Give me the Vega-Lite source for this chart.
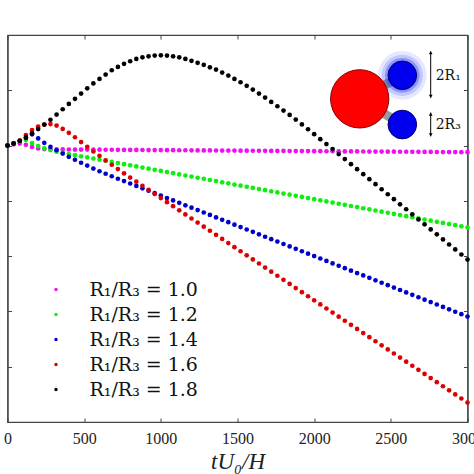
{
  "$schema": "https://vega.github.io/schema/vega-lite/v6.json",
  "width": 460,
  "height": 387,
  "autosize": "none",
  "padding": {"left": 7.5, "top": 35, "right": 6.5, "bottom": 52},
  "background": "white",
  "config": {
    "view": {"stroke": "#444444", "strokeWidth": 1.2},
    "font": "Liberation Serif",
    "axis": {
      "domainColor": "#444444",
      "domainWidth": 1.2,
      "tickColor": "#444444",
      "tickSize": -4,
      "tickWidth": 1,
      "grid": false,
      "labelFlush": false,
      "labelFont": "Liberation Serif",
      "labelFontSize": 16,
      "labelColor": "#222222",
      "titleColor": "#222222"
    }
  },
  "datasets": {
    "series": [
      {"s":"1.0","t":0,"y":0},{"s":"1.0","t":40,"y":0.022},{"s":"1.0","t":80,"y":0.036},{"s":"1.0","t":120,"y":0.013},{"s":"1.0","t":160,"y":-0.024},{"s":"1.0","t":200,"y":-0.051},{"s":"1.0","t":240,"y":-0.063},{"s":"1.0","t":280,"y":-0.069},{"s":"1.0","t":320,"y":-0.070},{"s":"1.0","t":360,"y":-0.070},{"s":"1.0","t":400,"y":-0.071},{"s":"1.0","t":440,"y":-0.072},{"s":"1.0","t":480,"y":-0.073},{"s":"1.0","t":520,"y":-0.073},{"s":"1.0","t":560,"y":-0.074},{"s":"1.0","t":600,"y":-0.075},{"s":"1.0","t":640,"y":-0.076},{"s":"1.0","t":680,"y":-0.076},{"s":"1.0","t":720,"y":-0.077},{"s":"1.0","t":760,"y":-0.078},{"s":"1.0","t":800,"y":-0.079},{"s":"1.0","t":840,"y":-0.079},{"s":"1.0","t":880,"y":-0.080},{"s":"1.0","t":920,"y":-0.081},{"s":"1.0","t":960,"y":-0.082},{"s":"1.0","t":1000,"y":-0.082},{"s":"1.0","t":1040,"y":-0.083},{"s":"1.0","t":1080,"y":-0.084},{"s":"1.0","t":1120,"y":-0.085},{"s":"1.0","t":1160,"y":-0.085},{"s":"1.0","t":1200,"y":-0.086},{"s":"1.0","t":1240,"y":-0.087},{"s":"1.0","t":1280,"y":-0.088},{"s":"1.0","t":1320,"y":-0.088},{"s":"1.0","t":1360,"y":-0.089},{"s":"1.0","t":1400,"y":-0.090},{"s":"1.0","t":1440,"y":-0.091},{"s":"1.0","t":1480,"y":-0.091},{"s":"1.0","t":1520,"y":-0.092},{"s":"1.0","t":1560,"y":-0.093},{"s":"1.0","t":1600,"y":-0.094},{"s":"1.0","t":1640,"y":-0.094},{"s":"1.0","t":1680,"y":-0.095},{"s":"1.0","t":1720,"y":-0.096},{"s":"1.0","t":1760,"y":-0.097},{"s":"1.0","t":1800,"y":-0.097},{"s":"1.0","t":1840,"y":-0.098},{"s":"1.0","t":1880,"y":-0.099},{"s":"1.0","t":1920,"y":-0.100},{"s":"1.0","t":1960,"y":-0.100},{"s":"1.0","t":2000,"y":-0.101},{"s":"1.0","t":2040,"y":-0.102},{"s":"1.0","t":2080,"y":-0.103},{"s":"1.0","t":2120,"y":-0.103},{"s":"1.0","t":2160,"y":-0.104},{"s":"1.0","t":2200,"y":-0.105},{"s":"1.0","t":2240,"y":-0.106},{"s":"1.0","t":2280,"y":-0.106},{"s":"1.0","t":2320,"y":-0.107},{"s":"1.0","t":2360,"y":-0.108},{"s":"1.0","t":2400,"y":-0.109},{"s":"1.0","t":2440,"y":-0.109},{"s":"1.0","t":2480,"y":-0.110},{"s":"1.0","t":2520,"y":-0.111},{"s":"1.0","t":2560,"y":-0.112},{"s":"1.0","t":2600,"y":-0.112},{"s":"1.0","t":2640,"y":-0.113},{"s":"1.0","t":2680,"y":-0.114},{"s":"1.0","t":2720,"y":-0.115},{"s":"1.0","t":2760,"y":-0.115},{"s":"1.0","t":2800,"y":-0.116},{"s":"1.0","t":2840,"y":-0.117},{"s":"1.0","t":2880,"y":-0.118},{"s":"1.0","t":2920,"y":-0.118},{"s":"1.0","t":2960,"y":-0.119},{"s":"1.0","t":3000,"y":-0.120},
      {"s":"1.2","t":0,"y":0},{"s":"1.2","t":40,"y":0.040},{"s":"1.2","t":80,"y":0.081},{"s":"1.2","t":120,"y":0.099},{"s":"1.2","t":160,"y":0.045},{"s":"1.2","t":200,"y":-0.009},{"s":"1.2","t":240,"y":-0.049},{"s":"1.2","t":280,"y":-0.081},{"s":"1.2","t":320,"y":-0.112},{"s":"1.2","t":360,"y":-0.132},{"s":"1.2","t":400,"y":-0.153},{"s":"1.2","t":440,"y":-0.173},{"s":"1.2","t":480,"y":-0.194},{"s":"1.2","t":520,"y":-0.214},{"s":"1.2","t":560,"y":-0.235},{"s":"1.2","t":600,"y":-0.255},{"s":"1.2","t":640,"y":-0.275},{"s":"1.2","t":680,"y":-0.296},{"s":"1.2","t":720,"y":-0.316},{"s":"1.2","t":760,"y":-0.337},{"s":"1.2","t":800,"y":-0.357},{"s":"1.2","t":840,"y":-0.378},{"s":"1.2","t":880,"y":-0.398},{"s":"1.2","t":920,"y":-0.418},{"s":"1.2","t":960,"y":-0.439},{"s":"1.2","t":1000,"y":-0.459},{"s":"1.2","t":1040,"y":-0.480},{"s":"1.2","t":1080,"y":-0.500},{"s":"1.2","t":1120,"y":-0.521},{"s":"1.2","t":1160,"y":-0.541},{"s":"1.2","t":1200,"y":-0.561},{"s":"1.2","t":1240,"y":-0.582},{"s":"1.2","t":1280,"y":-0.602},{"s":"1.2","t":1320,"y":-0.623},{"s":"1.2","t":1360,"y":-0.643},{"s":"1.2","t":1400,"y":-0.664},{"s":"1.2","t":1440,"y":-0.684},{"s":"1.2","t":1480,"y":-0.705},{"s":"1.2","t":1520,"y":-0.725},{"s":"1.2","t":1560,"y":-0.745},{"s":"1.2","t":1600,"y":-0.766},{"s":"1.2","t":1640,"y":-0.786},{"s":"1.2","t":1680,"y":-0.807},{"s":"1.2","t":1720,"y":-0.827},{"s":"1.2","t":1760,"y":-0.848},{"s":"1.2","t":1800,"y":-0.868},{"s":"1.2","t":1840,"y":-0.888},{"s":"1.2","t":1880,"y":-0.909},{"s":"1.2","t":1920,"y":-0.929},{"s":"1.2","t":1960,"y":-0.950},{"s":"1.2","t":2000,"y":-0.970},{"s":"1.2","t":2040,"y":-0.991},{"s":"1.2","t":2080,"y":-1.011},{"s":"1.2","t":2120,"y":-1.031},{"s":"1.2","t":2160,"y":-1.052},{"s":"1.2","t":2200,"y":-1.072},{"s":"1.2","t":2240,"y":-1.093},{"s":"1.2","t":2280,"y":-1.113},{"s":"1.2","t":2320,"y":-1.134},{"s":"1.2","t":2360,"y":-1.154},{"s":"1.2","t":2400,"y":-1.174},{"s":"1.2","t":2440,"y":-1.195},{"s":"1.2","t":2480,"y":-1.215},{"s":"1.2","t":2520,"y":-1.236},{"s":"1.2","t":2560,"y":-1.256},{"s":"1.2","t":2600,"y":-1.277},{"s":"1.2","t":2640,"y":-1.297},{"s":"1.2","t":2680,"y":-1.317},{"s":"1.2","t":2720,"y":-1.338},{"s":"1.2","t":2760,"y":-1.358},{"s":"1.2","t":2800,"y":-1.379},{"s":"1.2","t":2840,"y":-1.399},{"s":"1.2","t":2880,"y":-1.420},{"s":"1.2","t":2920,"y":-1.440},{"s":"1.2","t":2960,"y":-1.460},{"s":"1.2","t":3000,"y":-1.481},
      {"s":"1.4","t":0,"y":0},{"s":"1.4","t":40,"y":0.036},{"s":"1.4","t":80,"y":0.085},{"s":"1.4","t":120,"y":0.139},{"s":"1.4","t":160,"y":0.203},{"s":"1.4","t":200,"y":0.130},{"s":"1.4","t":240,"y":0.049},{"s":"1.4","t":280,"y":-0.024},{"s":"1.4","t":320,"y":-0.085},{"s":"1.4","t":360,"y":-0.145},{"s":"1.4","t":400,"y":-0.204},{"s":"1.4","t":440,"y":-0.257},{"s":"1.4","t":480,"y":-0.311},{"s":"1.4","t":520,"y":-0.362},{"s":"1.4","t":560,"y":-0.416},{"s":"1.4","t":600,"y":-0.465},{"s":"1.4","t":640,"y":-0.510},{"s":"1.4","t":680,"y":-0.555},{"s":"1.4","t":720,"y":-0.600},{"s":"1.4","t":760,"y":-0.642},{"s":"1.4","t":800,"y":-0.686},{"s":"1.4","t":840,"y":-0.730},{"s":"1.4","t":880,"y":-0.773},{"s":"1.4","t":920,"y":-0.817},{"s":"1.4","t":960,"y":-0.861},{"s":"1.4","t":1000,"y":-0.905},{"s":"1.4","t":1040,"y":-0.949},{"s":"1.4","t":1080,"y":-0.992},{"s":"1.4","t":1120,"y":-1.036},{"s":"1.4","t":1160,"y":-1.080},{"s":"1.4","t":1200,"y":-1.124},{"s":"1.4","t":1240,"y":-1.167},{"s":"1.4","t":1280,"y":-1.211},{"s":"1.4","t":1320,"y":-1.255},{"s":"1.4","t":1360,"y":-1.299},{"s":"1.4","t":1400,"y":-1.343},{"s":"1.4","t":1440,"y":-1.386},{"s":"1.4","t":1480,"y":-1.430},{"s":"1.4","t":1520,"y":-1.474},{"s":"1.4","t":1560,"y":-1.518},{"s":"1.4","t":1600,"y":-1.561},{"s":"1.4","t":1640,"y":-1.605},{"s":"1.4","t":1680,"y":-1.649},{"s":"1.4","t":1720,"y":-1.693},{"s":"1.4","t":1760,"y":-1.737},{"s":"1.4","t":1800,"y":-1.780},{"s":"1.4","t":1840,"y":-1.824},{"s":"1.4","t":1880,"y":-1.868},{"s":"1.4","t":1920,"y":-1.912},{"s":"1.4","t":1960,"y":-1.955},{"s":"1.4","t":2000,"y":-1.999},{"s":"1.4","t":2040,"y":-2.043},{"s":"1.4","t":2080,"y":-2.087},{"s":"1.4","t":2120,"y":-2.131},{"s":"1.4","t":2160,"y":-2.174},{"s":"1.4","t":2200,"y":-2.218},{"s":"1.4","t":2240,"y":-2.262},{"s":"1.4","t":2280,"y":-2.306},{"s":"1.4","t":2320,"y":-2.349},{"s":"1.4","t":2360,"y":-2.393},{"s":"1.4","t":2400,"y":-2.437},{"s":"1.4","t":2440,"y":-2.481},{"s":"1.4","t":2480,"y":-2.525},{"s":"1.4","t":2520,"y":-2.568},{"s":"1.4","t":2560,"y":-2.612},{"s":"1.4","t":2600,"y":-2.656},{"s":"1.4","t":2640,"y":-2.700},{"s":"1.4","t":2680,"y":-2.743},{"s":"1.4","t":2720,"y":-2.787},{"s":"1.4","t":2760,"y":-2.831},{"s":"1.4","t":2800,"y":-2.875},{"s":"1.4","t":2840,"y":-2.919},{"s":"1.4","t":2880,"y":-2.962},{"s":"1.4","t":2920,"y":-3.006},{"s":"1.4","t":2960,"y":-3.050},{"s":"1.4","t":3000,"y":-3.093},
      {"s":"1.6","t":0,"y":0},{"s":"1.6","t":40,"y":0.045},{"s":"1.6","t":80,"y":0.090},{"s":"1.6","t":120,"y":0.190},{"s":"1.6","t":160,"y":0.280},{"s":"1.6","t":200,"y":0.344},{"s":"1.6","t":240,"y":0.380},{"s":"1.6","t":280,"y":0.389},{"s":"1.6","t":320,"y":0.362},{"s":"1.6","t":360,"y":0.302},{"s":"1.6","t":400,"y":0.230},{"s":"1.6","t":440,"y":0.150},{"s":"1.6","t":480,"y":0.063},{"s":"1.6","t":520,"y":-0.022},{"s":"1.6","t":560,"y":-0.105},{"s":"1.6","t":600,"y":-0.186},{"s":"1.6","t":640,"y":-0.268},{"s":"1.6","t":680,"y":-0.347},{"s":"1.6","t":720,"y":-0.425},{"s":"1.6","t":760,"y":-0.503},{"s":"1.6","t":800,"y":-0.579},{"s":"1.6","t":840,"y":-0.653},{"s":"1.6","t":880,"y":-0.727},{"s":"1.6","t":920,"y":-0.801},{"s":"1.6","t":960,"y":-0.875},{"s":"1.6","t":1000,"y":-0.949},{"s":"1.6","t":1040,"y":-1.023},{"s":"1.6","t":1080,"y":-1.097},{"s":"1.6","t":1120,"y":-1.171},{"s":"1.6","t":1160,"y":-1.245},{"s":"1.6","t":1200,"y":-1.319},{"s":"1.6","t":1240,"y":-1.393},{"s":"1.6","t":1280,"y":-1.467},{"s":"1.6","t":1320,"y":-1.541},{"s":"1.6","t":1360,"y":-1.615},{"s":"1.6","t":1400,"y":-1.689},{"s":"1.6","t":1440,"y":-1.763},{"s":"1.6","t":1480,"y":-1.837},{"s":"1.6","t":1520,"y":-1.911},{"s":"1.6","t":1560,"y":-1.985},{"s":"1.6","t":1600,"y":-2.059},{"s":"1.6","t":1640,"y":-2.133},{"s":"1.6","t":1680,"y":-2.207},{"s":"1.6","t":1720,"y":-2.281},{"s":"1.6","t":1760,"y":-2.355},{"s":"1.6","t":1800,"y":-2.429},{"s":"1.6","t":1840,"y":-2.503},{"s":"1.6","t":1880,"y":-2.577},{"s":"1.6","t":1920,"y":-2.651},{"s":"1.6","t":1960,"y":-2.725},{"s":"1.6","t":2000,"y":-2.799},{"s":"1.6","t":2040,"y":-2.873},{"s":"1.6","t":2080,"y":-2.947},{"s":"1.6","t":2120,"y":-3.021},{"s":"1.6","t":2160,"y":-3.095},{"s":"1.6","t":2200,"y":-3.169},{"s":"1.6","t":2240,"y":-3.243},{"s":"1.6","t":2280,"y":-3.317},{"s":"1.6","t":2320,"y":-3.391},{"s":"1.6","t":2360,"y":-3.465},{"s":"1.6","t":2400,"y":-3.539},{"s":"1.6","t":2440,"y":-3.613},{"s":"1.6","t":2480,"y":-3.687},{"s":"1.6","t":2520,"y":-3.761},{"s":"1.6","t":2560,"y":-3.835},{"s":"1.6","t":2600,"y":-3.909},{"s":"1.6","t":2640,"y":-3.983},{"s":"1.6","t":2680,"y":-4.057},{"s":"1.6","t":2720,"y":-4.131},{"s":"1.6","t":2760,"y":-4.205},{"s":"1.6","t":2800,"y":-4.279},{"s":"1.6","t":2840,"y":-4.353},{"s":"1.6","t":2880,"y":-4.427},{"s":"1.6","t":2920,"y":-4.501},{"s":"1.6","t":2960,"y":-4.575},{"s":"1.6","t":3000,"y":-4.649},
      {"s":"1.8","t":0,"y":0},{"s":"1.8","t":40,"y":0.036},{"s":"1.8","t":80,"y":0.085},{"s":"1.8","t":120,"y":0.148},{"s":"1.8","t":160,"y":0.221},{"s":"1.8","t":200,"y":0.298},{"s":"1.8","t":240,"y":0.380},{"s":"1.8","t":280,"y":0.467},{"s":"1.8","t":320,"y":0.561},{"s":"1.8","t":360,"y":0.657},{"s":"1.8","t":400,"y":0.754},{"s":"1.8","t":440,"y":0.846},{"s":"1.8","t":480,"y":0.940},{"s":"1.8","t":520,"y":1.035},{"s":"1.8","t":560,"y":1.125},{"s":"1.8","t":600,"y":1.206},{"s":"1.8","t":640,"y":1.284},{"s":"1.8","t":680,"y":1.362},{"s":"1.8","t":720,"y":1.423},{"s":"1.8","t":760,"y":1.478},{"s":"1.8","t":800,"y":1.525},{"s":"1.8","t":840,"y":1.568},{"s":"1.8","t":880,"y":1.597},{"s":"1.8","t":920,"y":1.615},{"s":"1.8","t":960,"y":1.628},{"s":"1.8","t":1000,"y":1.633},{"s":"1.8","t":1040,"y":1.628},{"s":"1.8","t":1080,"y":1.615},{"s":"1.8","t":1120,"y":1.597},{"s":"1.8","t":1160,"y":1.568},{"s":"1.8","t":1200,"y":1.532},{"s":"1.8","t":1240,"y":1.496},{"s":"1.8","t":1280,"y":1.460},{"s":"1.8","t":1320,"y":1.416},{"s":"1.8","t":1360,"y":1.375},{"s":"1.8","t":1400,"y":1.320},{"s":"1.8","t":1440,"y":1.266},{"s":"1.8","t":1480,"y":1.206},{"s":"1.8","t":1520,"y":1.145},{"s":"1.8","t":1560,"y":1.080},{"s":"1.8","t":1600,"y":1.013},{"s":"1.8","t":1640,"y":0.940},{"s":"1.8","t":1680,"y":0.868},{"s":"1.8","t":1720,"y":0.790},{"s":"1.8","t":1760,"y":0.711},{"s":"1.8","t":1800,"y":0.633},{"s":"1.8","t":1840,"y":0.555},{"s":"1.8","t":1880,"y":0.470},{"s":"1.8","t":1920,"y":0.383},{"s":"1.8","t":1960,"y":0.295},{"s":"1.8","t":2000,"y":0.206},{"s":"1.8","t":2040,"y":0.116},{"s":"1.8","t":2080,"y":0.027},{"s":"1.8","t":2120,"y":-0.063},{"s":"1.8","t":2160,"y":-0.154},{"s":"1.8","t":2200,"y":-0.244},{"s":"1.8","t":2240,"y":-0.336},{"s":"1.8","t":2280,"y":-0.427},{"s":"1.8","t":2320,"y":-0.517},{"s":"1.8","t":2360,"y":-0.608},{"s":"1.8","t":2400,"y":-0.698},{"s":"1.8","t":2440,"y":-0.790},{"s":"1.8","t":2480,"y":-0.880},{"s":"1.8","t":2520,"y":-0.970},{"s":"1.8","t":2560,"y":-1.062},{"s":"1.8","t":2600,"y":-1.152},{"s":"1.8","t":2640,"y":-1.244},{"s":"1.8","t":2680,"y":-1.335},{"s":"1.8","t":2720,"y":-1.425},{"s":"1.8","t":2760,"y":-1.516},{"s":"1.8","t":2800,"y":-1.606},{"s":"1.8","t":2840,"y":-1.698},{"s":"1.8","t":2880,"y":-1.789},{"s":"1.8","t":2920,"y":-1.879},{"s":"1.8","t":2960,"y":-1.970},{"s":"1.8","t":3000,"y":-2.062}
    ],
    "rods": [
      {"x": 2297, "y": 0.845, "x2": 2575, "y2": 1.271},
      {"x": 2297, "y": 0.845, "x2": 2575, "y2": 0.380}
    ],
    "bigAtom": [{"x": 2297, "y": 0.845}],
    "haloAtom": [{"x": 2575, "y": 1.271}],
    "smallAtoms": [{"x": 2575, "y": 1.271}, {"x": 2575, "y": 0.380}],
    "arrows": [
      {"x": 2760, "top": 1.706, "bot": 0.863, "mid": 1.260, "lab": "2R₁"},
      {"x": 2760, "top": 0.597, "bot": 0.168, "mid": 0.370, "lab": "2R₃"}
    ]
  },
  "layer": [
    {
      "data": {"name": "series"},
      "mark": {"type": "point", "filled": true, "size": 22, "opacity": 1},
      "encoding": {
        "x": {
          "field": "t",
          "type": "quantitative",
          "scale": {"domain": [0, 3000], "nice": false, "zero": false},
          "axis": {
            "orient": "bottom",
            "values": [0, 500, 1000, 1500, 2000, 2500, 3000],
            "format": "d",
            "labelPadding": 12,
            "title": "tU₀/H",
            "titleFont": "Liberation Serif",
            "titleFontSize": 23,
            "titleFontStyle": "italic",
            "titleFontWeight": "normal",
            "titlePadding": 4
          }
        },
        "y": {
          "field": "y",
          "type": "quantitative",
          "scale": {"domain": [-5, 2], "nice": false, "zero": false},
          "axis": {"orient": "left", "values": [-5, -4, -3, -2, -1, 0, 1, 2], "labels": false, "title": null}
        },
        "color": {
          "field": "s",
          "type": "nominal",
          "scale": {
            "domain": ["1.0", "1.2", "1.4", "1.6", "1.8"],
            "range": ["#ee10ee", "#10ee10", "#0000cc", "#dd0000", "#000000"]
          },
          "legend": {
            "orient": "none",
            "legendX": 39,
            "legendY": 245,
            "padding": 0,
            "title": null,
            "symbolType": "circle",
            "symbolSize": 12,
            "symbolStrokeWidth": 0,
            "labelOffset": 24,
            "labelFont": "DejaVu Serif",
            "labelFontSize": 19,
            "labelColor": "#111111",
            "rowPadding": 5,
            "labelExpr": "'R₁/R₃ = ' + datum.label"
          }
        }
      }
    },
    {
      "data": {"name": "rods"},
      "mark": {"type": "rule", "color": "#9a9a9a", "strokeWidth": 9},
      "encoding": {
        "x": {"field": "x", "type": "quantitative", "scale": {"domain": [0, 3000], "nice": false, "zero": false}, "axis": {"orient": "top", "values": [0, 500, 1000, 1500, 2000, 2500, 3000], "labels": false, "title": null}},
        "y": {"field": "y", "type": "quantitative", "scale": {"domain": [-5, 2], "nice": false, "zero": false}, "axis": {"orient": "right", "values": [-5, -4, -3, -2, -1, 0, 1, 2], "labels": false, "title": null}},
        "x2": {"field": "x2"},
        "y2": {"field": "y2"}
      }
    },
    {
      "data": {"name": "haloAtom"},
      "mark": {"type": "point", "filled": true, "size": 2370, "color": "#3344ff", "opacity": 0.12},
      "encoding": {
        "x": {"field": "x", "type": "quantitative", "scale": {"domain": [0, 3000], "nice": false, "zero": false}, "axis": null},
        "y": {"field": "y", "type": "quantitative", "scale": {"domain": [-5, 2], "nice": false, "zero": false}, "axis": null}
      }
    },
    {
      "data": {"name": "haloAtom"},
      "mark": {"type": "point", "filled": true, "size": 1700, "color": "#3344ff", "opacity": 0.2},
      "encoding": {
        "x": {"field": "x", "type": "quantitative", "scale": {"domain": [0, 3000], "nice": false, "zero": false}, "axis": null},
        "y": {"field": "y", "type": "quantitative", "scale": {"domain": [-5, 2], "nice": false, "zero": false}, "axis": null}
      }
    },
    {
      "data": {"name": "haloAtom"},
      "mark": {"type": "point", "filled": true, "size": 1200, "color": "#2233ee", "opacity": 0.35},
      "encoding": {
        "x": {"field": "x", "type": "quantitative", "scale": {"domain": [0, 3000], "nice": false, "zero": false}, "axis": null},
        "y": {"field": "y", "type": "quantitative", "scale": {"domain": [-5, 2], "nice": false, "zero": false}, "axis": null}
      }
    },
    {
      "data": {"name": "bigAtom"},
      "mark": {"type": "point", "filled": true, "size": 3400, "fill": "#ff0000", "stroke": "#880000", "strokeWidth": 1, "opacity": 1},
      "encoding": {
        "x": {"field": "x", "type": "quantitative", "scale": {"domain": [0, 3000], "nice": false, "zero": false}, "axis": null},
        "y": {"field": "y", "type": "quantitative", "scale": {"domain": [-5, 2], "nice": false, "zero": false}, "axis": null}
      }
    },
    {
      "data": {"name": "smallAtoms"},
      "mark": {"type": "point", "filled": true, "size": 820, "fill": "#0000ee", "stroke": "#000066", "strokeWidth": 1, "opacity": 1},
      "encoding": {
        "x": {"field": "x", "type": "quantitative", "scale": {"domain": [0, 3000], "nice": false, "zero": false}, "axis": null},
        "y": {"field": "y", "type": "quantitative", "scale": {"domain": [-5, 2], "nice": false, "zero": false}, "axis": null}
      }
    },
    {
      "data": {"name": "arrows"},
      "mark": {"type": "rule", "color": "#000000", "strokeWidth": 1},
      "encoding": {
        "x": {"field": "x", "type": "quantitative", "scale": {"domain": [0, 3000], "nice": false, "zero": false}, "axis": null},
        "y": {"field": "top", "type": "quantitative", "scale": {"domain": [-5, 2], "nice": false, "zero": false}, "axis": null},
        "y2": {"field": "bot"}
      }
    },
    {
      "data": {"name": "arrows"},
      "mark": {"type": "point", "shape": "triangle-up", "filled": true, "size": 14, "color": "#000000", "opacity": 1, "yOffset": 1.5},
      "encoding": {
        "x": {"field": "x", "type": "quantitative", "scale": {"domain": [0, 3000], "nice": false, "zero": false}, "axis": null},
        "y": {"field": "top", "type": "quantitative", "scale": {"domain": [-5, 2], "nice": false, "zero": false}, "axis": null}
      }
    },
    {
      "data": {"name": "arrows"},
      "mark": {"type": "point", "shape": "triangle-down", "filled": true, "size": 14, "color": "#000000", "opacity": 1, "yOffset": -1.5},
      "encoding": {
        "x": {"field": "x", "type": "quantitative", "scale": {"domain": [0, 3000], "nice": false, "zero": false}, "axis": null},
        "y": {"field": "bot", "type": "quantitative", "scale": {"domain": [-5, 2], "nice": false, "zero": false}, "axis": null}
      }
    },
    {
      "data": {"name": "arrows"},
      "mark": {"type": "text", "align": "left", "baseline": "middle", "dx": 5, "font": "DejaVu Serif", "fontSize": 14, "color": "#111111"},
      "encoding": {
        "x": {"field": "x", "type": "quantitative", "scale": {"domain": [0, 3000], "nice": false, "zero": false}, "axis": null},
        "y": {"field": "mid", "type": "quantitative", "scale": {"domain": [-5, 2], "nice": false, "zero": false}, "axis": null},
        "text": {"field": "lab"}
      }
    }
  ],
  "resolve": {"axis": {"x": "independent", "y": "independent"}}
}
